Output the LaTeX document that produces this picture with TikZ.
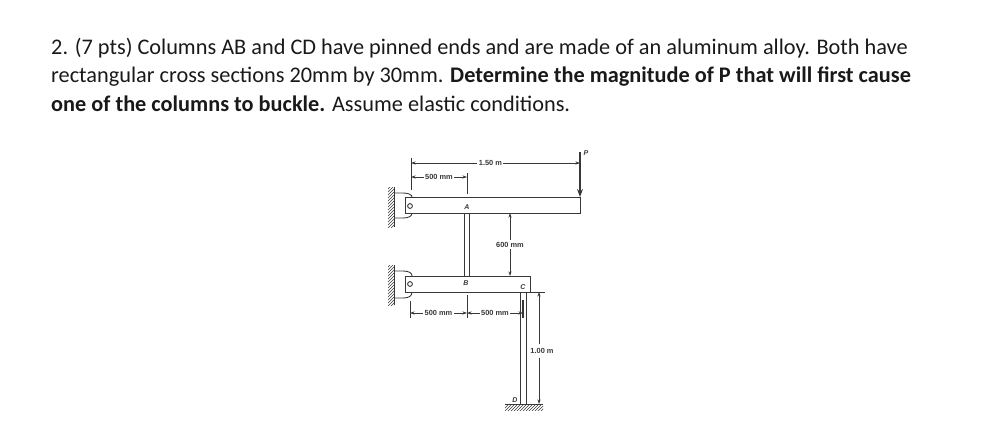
\documentclass[tikz,border=0pt]{standalone}
\usepackage{fontspec}
\setmainfont{Carlito}
\newfontfamily\dimfont{Liberation Sans}
\usetikzlibrary{patterns,arrows.meta}
\definecolor{inkgray}{gray}{0.22}
\tikzset{
  problem/.style={anchor=base west,inner sep=0pt,font=\fontsize{22.3}{25}\selectfont,text=black!90},
  dimlabel/.style={inner sep=1.5pt,fill=white,text=inkgray,font=\dimfont\bfseries\fontsize{7.4}{8}\selectfont},
  pointlabel/.style={inner sep=0pt,text=inkgray,font=\dimfont\bfseries\itshape\fontsize{7}{8}\selectfont},
  part/.style={draw=inkgray,line width=.9pt},
  dimline/.style={draw=inkgray,line width=.6pt,{Stealth[length=4.5pt,width=3pt]}-{Stealth[length=4.5pt,width=3pt]}},
  dimhalf/.style={draw=inkgray,line width=.6pt,-{Stealth[length=4.5pt,width=3pt]}},
  extline/.style={draw=inkgray,line width=.7pt},
  hatch/.style={pattern=north east lines,pattern color=inkgray}
}
\begin{document}
\begin{tikzpicture}[x=1pt,y=-1pt]
  \useasboundingbox (0,0) rectangle (982,436);
  % problem text
  \node[problem] (lineone) at (51,55) {2. (7 pts) Columns AB and CD have pinned ends and are made of an aluminum alloy. Both have};
  \node[problem] (linetwo) at (51,82) {rectangular cross sections 20mm by 30mm. \textbf{Determine the magnitude of P that will first cause}};
  \node[problem] (linethree) at (51,111) {\textbf{one of the columns to buckle.} Assume elastic conditions.};
  % walls and ground
  \fill[hatch] (388,187) rectangle (394,227);
  \fill[hatch] (388,265) rectangle (394,305);
  \fill[hatch] (505,404) rectangle (543,410);
  \draw[part] (394,187) -- (394,227);
  \draw[part] (394,265) -- (394,305);
  \draw[part] (505,404) -- (543,404);
  % clevis
  \draw[part] (394,193) -- (403,193) .. controls (409,193) and (412,195) .. (412,197);
  \draw[part] (394,218) -- (403,218) .. controls (409,218) and (412,216) .. (412,213);
  \draw[part] (394,271) -- (403,271) .. controls (409,271) and (412,273) .. (412,276);
  \draw[part] (394,298) -- (403,298) .. controls (409,298) and (412,296) .. (412,292);
  % beams and columns
  \draw[part] (405,197) rectangle (580,213);
  \draw[part] (405,276) rectangle (530,292);
  \draw[part] (464,213) rectangle (469,276);
  \draw[part] (520,292) rectangle (526,404);
  \draw[part] (410,206) circle (2.4);
  \draw[part] (410,284) circle (2.4);
  % point labels
  \node[pointlabel] (labela) at (467,207) {A};
  \node[pointlabel] (labelb) at (466,283) {B};
  \node[pointlabel] (labelc) at (523,287) {C};
  \node[pointlabel] (labeld) at (515,400) {D};
  % load
  \draw[part,line width=1.1pt,-{Stealth[length=8pt,width=6pt]}] (580,152) -- (580,197);
  \node[pointlabel] (labelp) at (586,153) {P};
  % extension lines
  \draw[extline] (411,158) -- (411,190);
  \draw[extline] (467,173) -- (467,194);
  \draw[extline] (410,301) -- (410,318);
  \draw[extline] (467,295) -- (467,318);
  \draw[extline,line width=1.2pt] (523,300) -- (523,318);
  \draw[extline] (530,292) -- (545,292);
  % dimensions
  \draw[dimline] (411,163) -- node[dimlabel,pos=.47] (dimtop) {1.50 m} (580,163);
  \draw[dimline] (411,177) -- node[dimlabel] (dimpin) {500 mm} (467,177);
  \draw[dimline] (510,213) -- node[dimlabel] (dimgap) {600 mm} (510,276);
  \draw[dimline] (410,313) -- node[dimlabel] (dimleft) {500 mm} (467,313);
  \draw[dimline] (467,313) -- node[dimlabel] (dimright) {500 mm} (523,313);
  \node[dimlabel] (dimcol) at (542,351) {1.00 m};
  \coordinate (coltop) at (539,292);
  \coordinate (colbase) at (539,404);
  \draw[dimhalf] (539,344) -- (coltop);
  \draw[dimhalf] (539,358) -- (colbase);
\end{tikzpicture}
\end{document}
